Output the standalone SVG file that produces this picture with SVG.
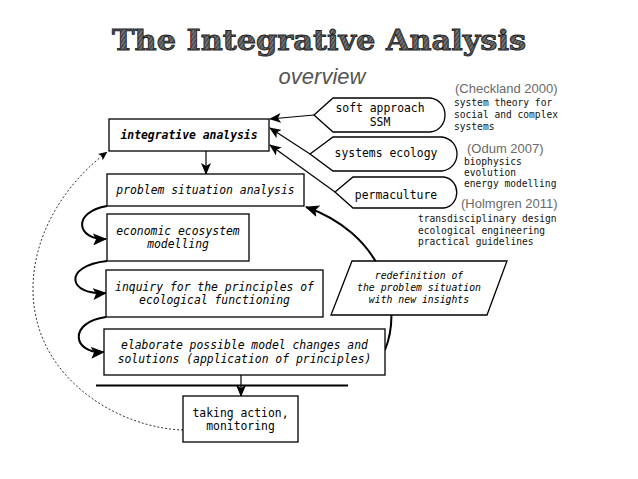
<svg xmlns="http://www.w3.org/2000/svg" width="638" height="479" viewBox="0 0 638 479">
<style>
  .box { fill: #fff; stroke: #000; stroke-width: 1.3; }
  .nt { font-family: "DejaVu Sans Mono", "Liberation Mono", monospace; font-size: 11.4px; font-style: italic; fill: #000; text-anchor: middle; }
  .rt { font-family: "DejaVu Sans Mono", "Liberation Mono", monospace; font-size: 9.8px; font-style: italic; fill: #000; text-anchor: middle; }
  .ht { font-family: "DejaVu Sans Mono", "Liberation Mono", monospace; font-size: 11.4px; fill: #000; text-anchor: middle; }
  .ref { font-family: "Liberation Sans", "Open Sans", sans-serif; font-size: 13px; fill: #6a6a6a; }
  .note { font-family: "DejaVu Sans Mono", "Liberation Mono", monospace; font-size: 9.6px; fill: #111; }
  .thin { fill: none; stroke: #000; stroke-width: 1.2; }
  .thick { fill: none; stroke: #000; stroke-width: 2; }
</style>
<defs>
  <pattern id="hatch" patternUnits="userSpaceOnUse" width="3" height="3" patternTransform="rotate(35)">
    <rect width="3" height="3" fill="#707070"/>
    <line x1="0" y1="0" x2="0" y2="3" stroke="#262626" stroke-width="1.3"/>
  </pattern>
  <marker id="ah" markerUnits="userSpaceOnUse" markerWidth="12" markerHeight="10" viewBox="0 0 12 10" refX="11" refY="5" orient="auto">
    <path d="M0,0 L12,5 L0,10 L3,5 Z" fill="#000"/>
  </marker>
  <marker id="ahb" markerUnits="userSpaceOnUse" markerWidth="14" markerHeight="12" viewBox="0 0 14 12" refX="13" refY="6" orient="auto">
    <path d="M0,0 L14,6 L0,12 L3,6 Z" fill="#000"/>
  </marker>
  <marker id="ahs" markerUnits="userSpaceOnUse" markerWidth="9" markerHeight="8" viewBox="0 0 9 8" refX="8.5" refY="4" orient="auto">
    <path d="M0,0 L9,4 L0,8 L2,4 Z" fill="#000"/>
  </marker>
</defs>

<text x="319" y="50" font-family="DejaVu Serif, Liberation Serif, serif" font-weight="bold" font-size="28" textLength="414" lengthAdjust="spacingAndGlyphs" text-anchor="middle" fill="url(#hatch)" stroke="#1e1e1e" stroke-width="0.9">The Integrative Analysis</text>
<text x="322" y="84" font-family="Liberation Sans, Open Sans, sans-serif" font-style="italic" font-size="22" fill="#555" text-anchor="middle">overview</text>

<g id="connectors">
  <line class="thin" x1="206" y1="151" x2="206" y2="174" marker-end="url(#ah)"/>
  <line class="thin" x1="314" y1="115" x2="270" y2="119" marker-end="url(#ah)"/>
  <line class="thin" x1="310" y1="154" x2="270" y2="128" marker-end="url(#ah)"/>
  <line class="thin" x1="335" y1="192" x2="270" y2="145" marker-end="url(#ah)"/>
  <path class="thick" d="M107,206 C72,212 76,240 106,239" marker-end="url(#ahb)"/>
  <path class="thick" d="M107,261 C62,266 68,296 106,293" marker-end="url(#ahb)"/>
  <path class="thick" d="M106,317 C68,322 72,354 104,352" marker-end="url(#ahb)"/>
  <path class="thick" d="M385,350 C405,300 378,232 306,207" marker-end="url(#ahb)"/>
  <line x1="96" y1="385.5" x2="348" y2="385.5" stroke="#000" stroke-width="2"/>
  <line class="thin" x1="241" y1="375" x2="241" y2="396" marker-end="url(#ah)"/>
  <path d="M183,430 C120,428 35,380 33,292 C32,230 70,180 107,152" fill="none" stroke="#333" stroke-width="1" stroke-dasharray="2,2" marker-end="url(#ahs)"/>
</g>

<g id="integrative">
  <rect class="box" x="109" y="119" width="160" height="32"/>
  <text class="nt" x="189" y="139" font-weight="bold">integrative analysis</text>
</g>
<g id="problem">
  <rect class="box" x="107" y="174" width="197" height="32"/>
  <text class="nt" x="205.5" y="194">problem situation analysis</text>
</g>
<g id="economic">
  <rect class="box" x="107" y="214" width="142" height="47"/>
  <text class="nt" x="178" y="235">economic ecosystem</text>
  <text class="nt" x="178" y="248">modelling</text>
</g>
<g id="inquiry">
  <rect class="box" x="106" y="270" width="217" height="47"/>
  <text class="nt" x="214.5" y="291">inquiry for the principles of</text>
  <text class="nt" x="214.5" y="304">ecological functioning</text>
</g>
<g id="elaborate">
  <rect class="box" x="104" y="329" width="281" height="46"/>
  <text class="nt" x="244.5" y="349">elaborate possible model changes and</text>
  <text class="nt" x="244.5" y="363">solutions (application of principles)</text>
</g>
<g id="action">
  <rect class="box" x="183" y="396" width="115" height="46"/>
  <text class="ht" x="240.5" y="417">taking action,</text>
  <text class="ht" x="240.5" y="430">monitoring</text>
</g>
<g id="redefinition">
  <path class="box" d="M352,261 L507,261 L487,315 L331,315 Z"/>
  <text class="rt" x="419" y="279">redefinition of</text>
  <text class="rt" x="419" y="291">the problem situation</text>
  <text class="rt" x="419" y="303">with new insights</text>
</g>
<g id="soft">
  <path class="box" d="M314,115 L333,98 L430,98 C450,100 450,130 430,132 L333,132 Z"/>
  <text class="ht" x="380" y="112">soft approach</text>
  <text class="ht" x="380" y="126">SSM</text>
</g>
<g id="systems">
  <path class="box" d="M310,154 L333,137 L442,137 C462,140 462,168 442,171 L333,171 Z"/>
  <text class="ht" x="386" y="157">systems ecology</text>
</g>
<g id="permaculture">
  <path class="box" d="M335,192 L353,177 L444,177 C461,180 461,205 444,208 L353,208 Z"/>
  <text class="ht" x="396" y="199">permaculture</text>
</g>

<g id="references">
  <text class="ref" x="455" y="93">(Checkland 2000)</text>
  <text class="note" x="454" y="106">system theory for</text>
  <text class="note" x="454" y="118">social and complex</text>
  <text class="note" x="454" y="130">systems</text>
  <text class="ref" x="467" y="153">(Odum 2007)</text>
  <text class="note" x="464" y="165">biophysics</text>
  <text class="note" x="464" y="176">evolution</text>
  <text class="note" x="464" y="187">energy modelling</text>
  <text class="ref" x="461" y="208">(Holmgren 2011)</text>
  <text class="note" x="418" y="222">transdisciplinary design</text>
  <text class="note" x="418" y="234">ecological engineering</text>
  <text class="note" x="418" y="245">practical guidelines</text>
</g>
</svg>
